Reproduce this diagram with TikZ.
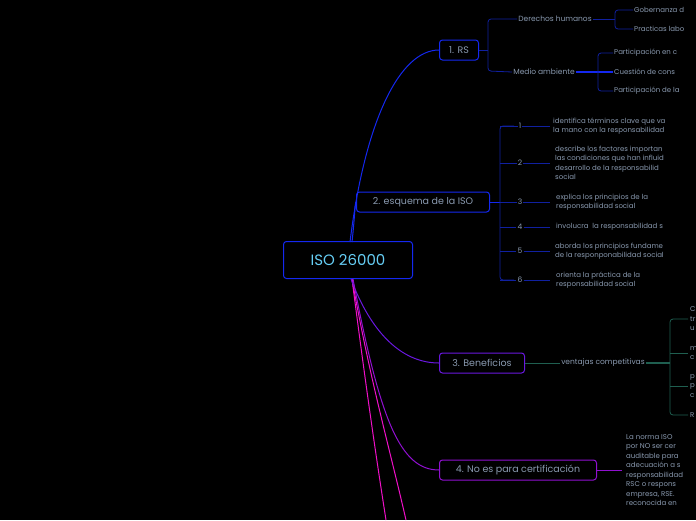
\documentclass[tikz,border=0pt]{standalone}
\usepackage{fontspec}
\setmainfont{Poppins}
\begin{document}
\begin{tikzpicture}[x=1pt,y=-1pt,
 box/.style={draw,rounded corners=3pt,line width=1pt,inner sep=2pt,minimum height=20pt,font=\fontsize{9.5}{10}\selectfont,text=txt},
 lab/.style={text=txt,font=\fontsize{7.5}{8}\selectfont,inner sep=1pt},
 sm/.style={text=txt,font=\fontsize{7}{9.5}\selectfont,inner sep=1pt,align=left,anchor=west},
 br/.style={line width=0.8pt,rounded corners=3pt}]
\definecolor{txt}{HTML}{8A9AB0}
\definecolor{bl}{HTML}{1428F0}
\definecolor{dbl}{HTML}{1020A0}
\definecolor{pu}{HTML}{6A18E0}
\definecolor{vi}{HTML}{9010D0}
\definecolor{mg}{HTML}{F010C8}
\definecolor{tl}{HTML}{1F5F50}
\fill[black] (0,0) rectangle (696,520);
\useasboundingbox (0,0) rectangle (696,520);
\clip (0,0) rectangle (696,520);
% main curves
\draw[mg,line width=1pt] (352,279) .. controls (365,380) and (375,450) .. (386,520);
\draw[mg,line width=1pt] (352,279) .. controls (370,380) and (390,450) .. (406,520);
\node[box,draw=bl,text=cyan!60!white,font=\fontsize{15}{16}\selectfont,minimum width=129pt,minimum height=37pt] (c) at (348,260) {ISO 26000};
\node[box,draw=bl,minimum width=39pt] (rs) at (459,50) {1. RS};
\node[box,draw=bl,minimum width=133pt] (esq) at (423,202) {2. esquema de la ISO};
\node[box,draw=pu,minimum width=85pt] (ben) at (482,363) {3. Beneficios};
\node[box,draw=vi,minimum width=157pt] (cert) at (518,470) {4. No es para certificación};
\draw[bl,line width=1pt] (350,242) .. controls (365,120) and (400,50) .. (rs.west);
\draw[bl,line width=1pt] (352,242) .. controls (355,215) and (355,202) .. (esq.west);
\draw[pu,line width=1pt] (c.south) ++(3,0) .. controls (370,330) and (400,363) .. (ben.west);
\draw[vi,line width=1pt] (c.south) ++(5,0) .. controls (380,420) and (400,470) .. (cert.west);
% 1. RS
\node[lab] (dh) at (555,19) {Derechos humanos};
\node[lab] (ma) at (544,72) {Medio ambiente};
\draw[dbl,br] (rs.east) -- (488,50);
\draw[dbl,br] (dh.west) -| (488,71) -- (ma.west);
\node[sm] (g1) at (633,10) {Gobernanza d};
\node[sm] (g2) at (633,29) {Practicas labo};
\draw[dbl,br] (dh.east) -- (615,19);
\draw[dbl,br] (g1.west) -| (615,29) -- (g2.west);
\node[sm] (p1) at (613,53) {Participación en c};
\node[sm] (p2) at (613,72) {Cuestión de cons};
\node[sm] (p3) at (613,91) {Participación de la};
\draw[bl,line width=1.2pt] (ma.east) -- (p2.west);
\draw[dbl,br] (p1.west) -| (598,91) -- (p3.west);
% 2 esquema
\draw[bl,line width=1pt] (esq.east) -- (500,202);
\draw[dbl,br] (514,126) -| (500,280) -- (514,280);
\foreach \y/\n in {126/1,163/2,202/3,227/4,251/5,280/6}{
  \node[lab] (n\n) at (520,\y) {\n};
  \draw[dbl,line width=0.6pt] (500,\y) -- (n\n.west);
  \draw[dbl,line width=0.6pt] (n\n.east) -- (550,\y);
}
\node[sm] (t1) at (552,126) {identifica términos clave que va\\la mano con la responsabilidad};
\node[sm] (t2) at (554,163) {describe los factores importan\\las condiciones que han influid\\desarrollo de la responsabilid\\social};
\node[sm] (t3) at (555,202) {explica los principios de la\\responsabilidad social};
\node[sm] (t4) at (555,227) {involucra \ la responsabilidad s};
\node[sm] (t5) at (554,251) {aborda los principios fundame\\de la responponabilidad social};
\node[sm] (t6) at (555,280) {orienta la práctica de la\\responsabilidad social};
% 3 beneficios
\node[lab] (vc) at (603,363) {ventajas competitivas};
\draw[tl,line width=0.8pt] (ben.east) -- (vc.west);
\draw[tl,line width=1.2pt] (vc.east) -- (670,363);
\draw[tl,br] (688,319) -| (670,415) -- (688,415);
\draw[tl,br] (670,353) -- (688,353);
\draw[tl,br] (670,386) -- (688,386);
\node[sm] at (689,319) {C\\tr\\u};
\node[sm] at (689,353) {m\\c};
\node[sm] at (689,386) {p\\p\\c};
\node[sm] at (689,415) {R};
% 4 cert
\node[sm,anchor=north west] (ct) at (625,433) {La norma ISO\\por NO ser cer\\auditable para\\adecuación a s\\responsabilidad\\RSC o respons\\empresa, RSE.\\reconocida en};
\draw[vi,line width=0.8pt] (cert.east) -- (622,470);
\end{tikzpicture}
\end{document}
